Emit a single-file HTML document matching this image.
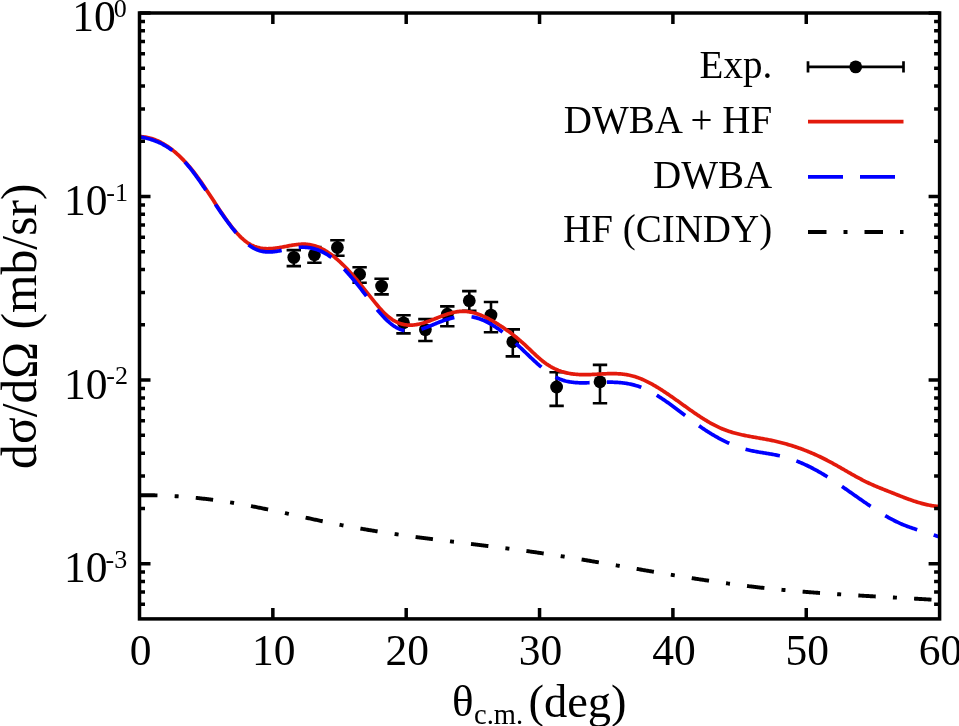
<!DOCTYPE html><html><head><meta charset="utf-8"><style>html,body{margin:0;padding:0;background:#fff;width:959px;height:726px;overflow:hidden}</style></head><body><svg width="959" height="726" viewBox="0 0 959 726" style="position:absolute;left:0;top:0;will-change:transform">
<rect width="959" height="726" fill="#fff"/>
<path d="M293.80,250.10V266.10M286.60,250.10H301.00M286.60,266.10H301.00" stroke="#000" stroke-width="2.6" fill="none"/><circle cx="293.80" cy="257.40" r="6.4" fill="#000"/>
<path d="M314.40,247.00V262.80M307.20,247.00H321.60M307.20,262.80H321.60" stroke="#000" stroke-width="2.6" fill="none"/><circle cx="314.40" cy="254.70" r="6.4" fill="#000"/>
<path d="M337.40,240.30V255.80M330.20,240.30H344.60M330.20,255.80H344.60" stroke="#000" stroke-width="2.6" fill="none"/><circle cx="337.40" cy="247.50" r="6.4" fill="#000"/>
<path d="M359.60,267.20V282.70M352.40,267.20H366.80M352.40,282.70H366.80" stroke="#000" stroke-width="2.6" fill="none"/><circle cx="359.60" cy="274.20" r="6.4" fill="#000"/>
<path d="M381.60,278.70V294.40M374.40,278.70H388.80M374.40,294.40H388.80" stroke="#000" stroke-width="2.6" fill="none"/><circle cx="381.60" cy="286.10" r="6.4" fill="#000"/>
<path d="M403.50,315.20V333.40M396.30,315.20H410.70M396.30,333.40H410.70" stroke="#000" stroke-width="2.6" fill="none"/><circle cx="403.50" cy="322.80" r="6.4" fill="#000"/>
<path d="M425.40,319.10V341.00M418.20,319.10H432.60M418.20,341.00H432.60" stroke="#000" stroke-width="2.6" fill="none"/><circle cx="425.40" cy="329.60" r="6.4" fill="#000"/>
<path d="M447.30,306.40V326.20M440.10,306.40H454.50M440.10,326.20H454.50" stroke="#000" stroke-width="2.6" fill="none"/><circle cx="447.30" cy="314.20" r="6.4" fill="#000"/>
<path d="M469.30,291.10V310.80M462.10,291.10H476.50M462.10,310.80H476.50" stroke="#000" stroke-width="2.6" fill="none"/><circle cx="469.30" cy="300.70" r="6.4" fill="#000"/>
<path d="M491.00,302.00V332.30M483.80,302.00H498.20M483.80,332.30H498.20" stroke="#000" stroke-width="2.6" fill="none"/><circle cx="491.00" cy="315.10" r="6.4" fill="#000"/>
<path d="M512.80,329.40V356.40M505.60,329.40H520.00M505.60,356.40H520.00" stroke="#000" stroke-width="2.6" fill="none"/><circle cx="512.80" cy="341.80" r="6.4" fill="#000"/>
<path d="M556.60,372.20V405.90M549.40,372.20H563.80M549.40,405.90H563.80" stroke="#000" stroke-width="2.6" fill="none"/><circle cx="556.60" cy="387.00" r="6.4" fill="#000"/>
<path d="M600.00,364.90V403.30M592.80,364.90H607.20M592.80,403.30H607.20" stroke="#000" stroke-width="2.6" fill="none"/><circle cx="600.00" cy="381.80" r="6.4" fill="#000"/>
<path d="M139.50,136.58 L140.50,136.62 L141.50,136.68 L142.50,136.77 L143.50,136.87 L144.50,137.00 L145.50,137.16 L146.50,137.33 L147.50,137.53 L148.50,137.75 L149.50,138.00 L150.50,138.27 L151.50,138.56 L152.50,138.88 L153.50,139.22 L154.50,139.58 L155.50,139.96 L156.50,140.37 L157.50,140.80 L158.50,141.25 L159.50,141.73 L160.50,142.23 L161.50,142.76 L162.50,143.30 L163.50,143.87 L164.50,144.47 L165.50,145.08 L166.50,145.72 L167.50,146.38 L168.50,147.07 L169.50,147.78 L170.50,148.51 L171.50,149.26 L172.50,150.04 L173.50,150.84 L174.50,151.67 L175.50,152.51 L176.50,153.38 L177.50,154.28 L178.50,155.19 L179.50,156.13 L180.50,157.10 L181.50,158.08 L182.50,159.09 L183.50,160.12 L184.50,161.18 L185.50,162.25 L186.50,163.36 L187.50,164.48 L188.50,165.63 L189.50,166.80 L190.50,167.99 L191.50,169.21 L192.50,170.45 L193.50,171.71 L194.50,172.99 L195.50,174.30 L196.50,175.63 L197.50,176.99 L198.50,178.36 L199.50,179.76 L200.50,181.17 L201.50,182.60 L202.50,184.05 L203.50,185.51 L204.50,186.99 L205.50,188.47 L206.50,189.97 L207.50,191.47 L208.50,192.98 L209.50,194.50 L210.50,196.02 L211.50,197.55 L212.50,199.08 L213.50,200.60 L214.50,202.13 L215.50,203.65 L216.50,205.17 L217.50,206.69 L218.50,208.20 L219.50,209.70 L220.50,211.19 L221.50,212.67 L222.50,214.13 L223.50,215.59 L224.50,217.02 L225.50,218.45 L226.50,219.85 L227.50,221.23 L228.50,222.60 L229.50,223.94 L230.50,225.26 L231.50,226.55 L232.50,227.82 L233.50,229.06 L234.50,230.27 L235.50,231.44 L236.50,232.59 L237.50,233.71 L238.50,234.78 L239.50,235.83 L240.50,236.83 L241.50,237.80 L242.50,238.72 L243.50,239.61 L244.50,240.45 L245.50,241.25 L246.50,242.00 L247.50,242.70 L248.50,243.36 L249.50,243.97 L250.50,244.54 L251.50,245.07 L252.50,245.55 L253.50,246.00 L254.50,246.41 L255.50,246.77 L256.50,247.11 L257.50,247.41 L258.50,247.67 L259.50,247.90 L260.50,248.10 L261.50,248.27 L262.50,248.42 L263.50,248.53 L264.50,248.62 L265.50,248.68 L266.50,248.72 L267.50,248.73 L268.50,248.72 L269.50,248.70 L270.50,248.65 L271.50,248.58 L272.50,248.50 L273.50,248.40 L274.50,248.29 L275.50,248.17 L276.50,248.03 L277.50,247.88 L278.50,247.72 L279.50,247.55 L280.50,247.38 L281.50,247.20 L282.50,247.02 L283.50,246.83 L284.50,246.64 L285.50,246.44 L286.50,246.25 L287.50,246.06 L288.50,245.87 L289.50,245.69 L290.50,245.51 L291.50,245.34 L292.50,245.17 L293.50,245.01 L294.50,244.86 L295.50,244.73 L296.50,244.60 L297.50,244.49 L298.50,244.39 L299.50,244.31 L300.50,244.25 L301.50,244.20 L302.50,244.17 L303.50,244.17 L304.50,244.18 L305.50,244.22 L306.50,244.28 L307.50,244.37 L308.50,244.49 L309.50,244.63 L310.50,244.80 L311.50,245.00 L312.50,245.23 L313.50,245.49 L314.50,245.78 L315.50,246.10 L316.50,246.45 L317.50,246.83 L318.50,247.23 L319.50,247.66 L320.50,248.12 L321.50,248.60 L322.50,249.11 L323.50,249.65 L324.50,250.21 L325.50,250.80 L326.50,251.41 L327.50,252.05 L328.50,252.71 L329.50,253.40 L330.50,254.10 L331.50,254.83 L332.50,255.59 L333.50,256.37 L334.50,257.16 L335.50,257.98 L336.50,258.82 L337.50,259.69 L338.50,260.57 L339.50,261.47 L340.50,262.40 L341.50,263.34 L342.50,264.30 L343.50,265.28 L344.50,266.28 L345.50,267.29 L346.50,268.33 L347.50,269.38 L348.50,270.45 L349.50,271.53 L350.50,272.64 L351.50,273.75 L352.50,274.89 L353.50,276.03 L354.50,277.20 L355.50,278.37 L356.50,279.56 L357.50,280.76 L358.50,281.97 L359.50,283.19 L360.50,284.42 L361.50,285.66 L362.50,286.90 L363.50,288.14 L364.50,289.39 L365.50,290.65 L366.50,291.90 L367.50,293.16 L368.50,294.41 L369.50,295.66 L370.50,296.92 L371.50,298.16 L372.50,299.40 L373.50,300.64 L374.50,301.87 L375.50,303.09 L376.50,304.30 L377.50,305.50 L378.50,306.68 L379.50,307.84 L380.50,308.97 L381.50,310.08 L382.50,311.16 L383.50,312.20 L384.50,313.20 L385.50,314.17 L386.50,315.09 L387.50,315.97 L388.50,316.80 L389.50,317.59 L390.50,318.34 L391.50,319.04 L392.50,319.71 L393.50,320.33 L394.50,320.91 L395.50,321.46 L396.50,321.96 L397.50,322.42 L398.50,322.85 L399.50,323.24 L400.50,323.59 L401.50,323.90 L402.50,324.18 L403.50,324.42 L404.50,324.62 L405.50,324.79 L406.50,324.93 L407.50,325.03 L408.50,325.10 L409.50,325.13 L410.50,325.14 L411.50,325.11 L412.50,325.06 L413.50,324.98 L414.50,324.87 L415.50,324.74 L416.50,324.58 L417.50,324.40 L418.50,324.20 L419.50,323.98 L420.50,323.74 L421.50,323.48 L422.50,323.20 L423.50,322.91 L424.50,322.61 L425.50,322.28 L426.50,321.95 L427.50,321.61 L428.50,321.25 L429.50,320.89 L430.50,320.52 L431.50,320.14 L432.50,319.75 L433.50,319.36 L434.50,318.97 L435.50,318.58 L436.50,318.18 L437.50,317.79 L438.50,317.39 L439.50,317.00 L440.50,316.61 L441.50,316.23 L442.50,315.85 L443.50,315.48 L444.50,315.12 L445.50,314.77 L446.50,314.43 L447.50,314.10 L448.50,313.78 L449.50,313.48 L450.50,313.19 L451.50,312.91 L452.50,312.66 L453.50,312.42 L454.50,312.21 L455.50,312.01 L456.50,311.84 L457.50,311.69 L458.50,311.56 L459.50,311.46 L460.50,311.39 L461.50,311.34 L462.50,311.32 L463.50,311.33 L464.50,311.36 L465.50,311.42 L466.50,311.51 L467.50,311.62 L468.50,311.75 L469.50,311.91 L470.50,312.09 L471.50,312.29 L472.50,312.52 L473.50,312.77 L474.50,313.04 L475.50,313.33 L476.50,313.64 L477.50,313.97 L478.50,314.32 L479.50,314.68 L480.50,315.07 L481.50,315.47 L482.50,315.89 L483.50,316.33 L484.50,316.79 L485.50,317.26 L486.50,317.74 L487.50,318.24 L488.50,318.75 L489.50,319.28 L490.50,319.82 L491.50,320.38 L492.50,320.94 L493.50,321.52 L494.50,322.11 L495.50,322.71 L496.50,323.31 L497.50,323.93 L498.50,324.56 L499.50,325.20 L500.50,325.84 L501.50,326.50 L502.50,327.16 L503.50,327.84 L504.50,328.52 L505.50,329.22 L506.50,329.92 L507.50,330.63 L508.50,331.36 L509.50,332.09 L510.50,332.84 L511.50,333.59 L512.50,334.36 L513.50,335.14 L514.50,335.93 L515.50,336.73 L516.50,337.54 L517.50,338.37 L518.50,339.21 L519.50,340.06 L520.50,340.92 L521.50,341.79 L522.50,342.68 L523.50,343.58 L524.50,344.49 L525.50,345.41 L526.50,346.35 L527.50,347.29 L528.50,348.24 L529.50,349.19 L530.50,350.14 L531.50,351.09 L532.50,352.04 L533.50,352.99 L534.50,353.92 L535.50,354.85 L536.50,355.77 L537.50,356.68 L538.50,357.57 L539.50,358.45 L540.50,359.30 L541.50,360.14 L542.50,360.95 L543.50,361.74 L544.50,362.51 L545.50,363.24 L546.50,363.95 L547.50,364.62 L548.50,365.27 L549.50,365.90 L550.50,366.50 L551.50,367.07 L552.50,367.62 L553.50,368.14 L554.50,368.64 L555.50,369.11 L556.50,369.56 L557.50,369.98 L558.50,370.39 L559.50,370.77 L560.50,371.13 L561.50,371.47 L562.50,371.78 L563.50,372.08 L564.50,372.36 L565.50,372.62 L566.50,372.86 L567.50,373.08 L568.50,373.28 L569.50,373.47 L570.50,373.64 L571.50,373.80 L572.50,373.94 L573.50,374.07 L574.50,374.18 L575.50,374.28 L576.50,374.37 L577.50,374.44 L578.50,374.50 L579.50,374.56 L580.50,374.60 L581.50,374.63 L582.50,374.65 L583.50,374.66 L584.50,374.66 L585.50,374.66 L586.50,374.65 L587.50,374.63 L588.50,374.61 L589.50,374.58 L590.50,374.54 L591.50,374.50 L592.50,374.46 L593.50,374.41 L594.50,374.36 L595.50,374.31 L596.50,374.26 L597.50,374.20 L598.50,374.15 L599.50,374.09 L600.50,374.04 L601.50,373.99 L602.50,373.94 L603.50,373.89 L604.50,373.84 L605.50,373.80 L606.50,373.76 L607.50,373.72 L608.50,373.69 L609.50,373.67 L610.50,373.65 L611.50,373.64 L612.50,373.64 L613.50,373.64 L614.50,373.65 L615.50,373.67 L616.50,373.70 L617.50,373.75 L618.50,373.80 L619.50,373.86 L620.50,373.93 L621.50,374.02 L622.50,374.12 L623.50,374.23 L624.50,374.36 L625.50,374.50 L626.50,374.66 L627.50,374.83 L628.50,375.02 L629.50,375.22 L630.50,375.45 L631.50,375.69 L632.50,375.95 L633.50,376.22 L634.50,376.52 L635.50,376.83 L636.50,377.16 L637.50,377.51 L638.50,377.87 L639.50,378.25 L640.50,378.64 L641.50,379.05 L642.50,379.48 L643.50,379.92 L644.50,380.37 L645.50,380.84 L646.50,381.32 L647.50,381.82 L648.50,382.32 L649.50,382.84 L650.50,383.37 L651.50,383.91 L652.50,384.47 L653.50,385.03 L654.50,385.61 L655.50,386.19 L656.50,386.79 L657.50,387.39 L658.50,388.01 L659.50,388.63 L660.50,389.26 L661.50,389.90 L662.50,390.54 L663.50,391.19 L664.50,391.85 L665.50,392.52 L666.50,393.19 L667.50,393.87 L668.50,394.55 L669.50,395.24 L670.50,395.93 L671.50,396.62 L672.50,397.32 L673.50,398.03 L674.50,398.73 L675.50,399.44 L676.50,400.15 L677.50,400.87 L678.50,401.58 L679.50,402.30 L680.50,403.02 L681.50,403.73 L682.50,404.45 L683.50,405.17 L684.50,405.88 L685.50,406.60 L686.50,407.31 L687.50,408.02 L688.50,408.73 L689.50,409.44 L690.50,410.15 L691.50,410.85 L692.50,411.54 L693.50,412.24 L694.50,412.93 L695.50,413.61 L696.50,414.29 L697.50,414.96 L698.50,415.63 L699.50,416.29 L700.50,416.95 L701.50,417.59 L702.50,418.23 L703.50,418.87 L704.50,419.49 L705.50,420.11 L706.50,420.71 L707.50,421.31 L708.50,421.90 L709.50,422.48 L710.50,423.05 L711.50,423.60 L712.50,424.15 L713.50,424.69 L714.50,425.21 L715.50,425.72 L716.50,426.22 L717.50,426.70 L718.50,427.17 L719.50,427.63 L720.50,428.08 L721.50,428.51 L722.50,428.92 L723.50,429.33 L724.50,429.72 L725.50,430.09 L726.50,430.46 L727.50,430.81 L728.50,431.16 L729.50,431.49 L730.50,431.81 L731.50,432.12 L732.50,432.42 L733.50,432.71 L734.50,432.99 L735.50,433.26 L736.50,433.53 L737.50,433.78 L738.50,434.03 L739.50,434.27 L740.50,434.51 L741.50,434.73 L742.50,434.96 L743.50,435.17 L744.50,435.38 L745.50,435.59 L746.50,435.79 L747.50,435.98 L748.50,436.18 L749.50,436.36 L750.50,436.55 L751.50,436.73 L752.50,436.91 L753.50,437.09 L754.50,437.27 L755.50,437.44 L756.50,437.62 L757.50,437.79 L758.50,437.97 L759.50,438.14 L760.50,438.32 L761.50,438.49 L762.50,438.67 L763.50,438.85 L764.50,439.03 L765.50,439.21 L766.50,439.40 L767.50,439.59 L768.50,439.78 L769.50,439.97 L770.50,440.18 L771.50,440.38 L772.50,440.59 L773.50,440.81 L774.50,441.03 L775.50,441.26 L776.50,441.49 L777.50,441.72 L778.50,441.96 L779.50,442.21 L780.50,442.46 L781.50,442.72 L782.50,442.98 L783.50,443.25 L784.50,443.52 L785.50,443.80 L786.50,444.08 L787.50,444.37 L788.50,444.66 L789.50,444.96 L790.50,445.27 L791.50,445.58 L792.50,445.89 L793.50,446.21 L794.50,446.54 L795.50,446.87 L796.50,447.21 L797.50,447.55 L798.50,447.90 L799.50,448.25 L800.50,448.61 L801.50,448.98 L802.50,449.35 L803.50,449.72 L804.50,450.11 L805.50,450.49 L806.50,450.89 L807.50,451.29 L808.50,451.69 L809.50,452.10 L810.50,452.52 L811.50,452.94 L812.50,453.37 L813.50,453.81 L814.50,454.25 L815.50,454.69 L816.50,455.15 L817.50,455.61 L818.50,456.07 L819.50,456.54 L820.50,457.02 L821.50,457.50 L822.50,457.99 L823.50,458.48 L824.50,458.99 L825.50,459.49 L826.50,460.01 L827.50,460.53 L828.50,461.05 L829.50,461.59 L830.50,462.12 L831.50,462.67 L832.50,463.21 L833.50,463.76 L834.50,464.32 L835.50,464.88 L836.50,465.44 L837.50,466.01 L838.50,466.58 L839.50,467.15 L840.50,467.72 L841.50,468.29 L842.50,468.87 L843.50,469.44 L844.50,470.02 L845.50,470.60 L846.50,471.17 L847.50,471.75 L848.50,472.32 L849.50,472.89 L850.50,473.46 L851.50,474.03 L852.50,474.60 L853.50,475.16 L854.50,475.72 L855.50,476.28 L856.50,476.83 L857.50,477.37 L858.50,477.92 L859.50,478.45 L860.50,478.99 L861.50,479.51 L862.50,480.03 L863.50,480.54 L864.50,481.05 L865.50,481.55 L866.50,482.04 L867.50,482.52 L868.50,483.00 L869.50,483.46 L870.50,483.92 L871.50,484.37 L872.50,484.81 L873.50,485.25 L874.50,485.68 L875.50,486.11 L876.50,486.53 L877.50,486.94 L878.50,487.36 L879.50,487.76 L880.50,488.17 L881.50,488.57 L882.50,488.97 L883.50,489.37 L884.50,489.76 L885.50,490.16 L886.50,490.55 L887.50,490.95 L888.50,491.35 L889.50,491.74 L890.50,492.14 L891.50,492.54 L892.50,492.94 L893.50,493.34 L894.50,493.74 L895.50,494.14 L896.50,494.54 L897.50,494.93 L898.50,495.33 L899.50,495.73 L900.50,496.12 L901.50,496.51 L902.50,496.90 L903.50,497.28 L904.50,497.67 L905.50,498.04 L906.50,498.42 L907.50,498.79 L908.50,499.16 L909.50,499.52 L910.50,499.87 L911.50,500.22 L912.50,500.57 L913.50,500.91 L914.50,501.24 L915.50,501.57 L916.50,501.88 L917.50,502.20 L918.50,502.50 L919.50,502.79 L920.50,503.08 L921.50,503.36 L922.50,503.63 L923.50,503.89 L924.50,504.14 L925.50,504.38 L926.50,504.61 L927.50,504.83 L928.50,505.04 L929.50,505.24 L930.50,505.42 L931.50,505.60 L932.50,505.76 L933.50,505.91 L934.50,506.04 L935.50,506.17 L936.50,506.28 L937.50,506.37 L938.50,506.45 L939.50,506.52 L939.60,506.53" stroke="#e31a0c" stroke-width="3.7" fill="none" stroke-linejoin="round"/>
<path d="M139.50,136.92 L140.50,137.07 L141.50,137.23 L142.50,137.40 L143.50,137.59 L144.50,137.79 L145.50,138.01 L146.50,138.24 L147.50,138.48 L148.50,138.74 L149.50,139.02 L150.50,139.31 L151.50,139.62 L152.50,139.94 L153.50,140.29 L154.50,140.65 L155.50,141.03 L156.50,141.42 L157.50,141.84 L158.50,142.27 L159.50,142.73 L160.50,143.20 L161.50,143.69 L162.50,144.21 L163.50,144.75 L164.50,145.30 L165.50,145.88 L166.50,146.49 L167.50,147.11 L168.50,147.76 L169.50,148.43 L170.50,149.13 L171.50,149.85 L172.50,150.59 L173.50,151.36 L174.50,152.16 L175.50,152.98 L176.50,153.83 L177.50,154.70 L178.50,155.61 L179.50,156.54 L180.50,157.49 L181.50,158.48 L182.50,159.49 L183.50,160.54 L184.50,161.61 L185.50,162.71 L186.50,163.85 L187.50,165.01 L188.50,166.20 L189.50,167.42 L190.50,168.66 L191.50,169.93 L192.50,171.22 L193.50,172.53 L194.50,173.86 L195.50,175.21 L196.50,176.59 L197.50,177.97 L198.50,179.38 L199.50,180.80 L200.50,182.23 L201.50,183.67 L202.50,185.13 L203.50,186.60 L204.50,188.07 L205.50,189.55 L206.50,191.04 L207.50,192.54 L208.50,194.03 L209.50,195.53 L210.50,197.04 L211.50,198.54 L212.50,200.04 L213.50,201.54 L214.50,203.04 L215.50,204.53 L216.50,206.02 L217.50,207.50 L218.50,208.98 L219.50,210.44 L220.50,211.90 L221.50,213.35 L222.50,214.78 L223.50,216.20 L224.50,217.61 L225.50,219.01 L226.50,220.39 L227.50,221.75 L228.50,223.10 L229.50,224.42 L230.50,225.73 L231.50,227.02 L232.50,228.29 L233.50,229.53 L234.50,230.75 L235.50,231.94 L236.50,233.11 L237.50,234.26 L238.50,235.37 L239.50,236.46 L240.50,237.52 L241.50,238.54 L242.50,239.54 L243.50,240.50 L244.50,241.43 L245.50,242.32 L246.50,243.18 L247.50,244.00 L248.50,244.79 L249.50,245.53 L250.50,246.24 L251.50,246.90 L252.50,247.53 L253.50,248.11 L254.50,248.64 L255.50,249.14 L256.50,249.58 L257.50,249.98 L258.50,250.35 L259.50,250.67 L260.50,250.95 L261.50,251.19 L262.50,251.39 L263.50,251.57 L264.50,251.70 L265.50,251.81 L266.50,251.89 L267.50,251.94 L268.50,251.96 L269.50,251.95 L270.50,251.92 L271.50,251.87 L272.50,251.80 L273.50,251.70 L274.50,251.59 L275.50,251.46 L276.50,251.32 L277.50,251.16 L278.50,251.00 L279.50,250.82 L280.50,250.63 L281.50,250.43 L282.50,250.23 L283.50,250.02 L284.50,249.81 L285.50,249.60 L286.50,249.39 L287.50,249.18 L288.50,248.97 L289.50,248.77 L290.50,248.57 L291.50,248.38 L292.50,248.20 L293.50,248.03 L294.50,247.87 L295.50,247.73 L296.50,247.60 L297.50,247.49 L298.50,247.39 L299.50,247.32 L300.50,247.26 L301.50,247.23 L302.50,247.22 L303.50,247.23 L304.50,247.26 L305.50,247.32 L306.50,247.39 L307.50,247.50 L308.50,247.62 L309.50,247.77 L310.50,247.94 L311.50,248.14 L312.50,248.36 L313.50,248.61 L314.50,248.88 L315.50,249.17 L316.50,249.50 L317.50,249.84 L318.50,250.22 L319.50,250.62 L320.50,251.04 L321.50,251.50 L322.50,251.98 L323.50,252.48 L324.50,253.02 L325.50,253.58 L326.50,254.17 L327.50,254.79 L328.50,255.44 L329.50,256.12 L330.50,256.83 L331.50,257.56 L332.50,258.33 L333.50,259.12 L334.50,259.95 L335.50,260.79 L336.50,261.67 L337.50,262.57 L338.50,263.49 L339.50,264.44 L340.50,265.41 L341.50,266.41 L342.50,267.42 L343.50,268.46 L344.50,269.52 L345.50,270.59 L346.50,271.68 L347.50,272.79 L348.50,273.92 L349.50,275.06 L350.50,276.22 L351.50,277.39 L352.50,278.58 L353.50,279.77 L354.50,280.98 L355.50,282.20 L356.50,283.43 L357.50,284.68 L358.50,285.92 L359.50,287.18 L360.50,288.44 L361.50,289.71 L362.50,290.99 L363.50,292.27 L364.50,293.55 L365.50,294.84 L366.50,296.13 L367.50,297.42 L368.50,298.71 L369.50,300.00 L370.50,301.28 L371.50,302.56 L372.50,303.83 L373.50,305.09 L374.50,306.34 L375.50,307.57 L376.50,308.80 L377.50,310.00 L378.50,311.19 L379.50,312.36 L380.50,313.51 L381.50,314.63 L382.50,315.73 L383.50,316.80 L384.50,317.85 L385.50,318.86 L386.50,319.85 L387.50,320.80 L388.50,321.71 L389.50,322.59 L390.50,323.43 L391.50,324.23 L392.50,324.99 L393.50,325.70 L394.50,326.37 L395.50,327.00 L396.50,327.58 L397.50,328.12 L398.50,328.61 L399.50,329.06 L400.50,329.47 L401.50,329.83 L402.50,330.14 L403.50,330.41 L404.50,330.64 L405.50,330.82 L406.50,330.97 L407.50,331.07 L408.50,331.13 L409.50,331.16 L410.50,331.15 L411.50,331.11 L412.50,331.03 L413.50,330.92 L414.50,330.78 L415.50,330.62 L416.50,330.43 L417.50,330.21 L418.50,329.97 L419.50,329.70 L420.50,329.42 L421.50,329.12 L422.50,328.80 L423.50,328.46 L424.50,328.11 L425.50,327.74 L426.50,327.36 L427.50,326.98 L428.50,326.58 L429.50,326.18 L430.50,325.77 L431.50,325.35 L432.50,324.94 L433.50,324.52 L434.50,324.10 L435.50,323.68 L436.50,323.27 L437.50,322.86 L438.50,322.46 L439.50,322.06 L440.50,321.68 L441.50,321.30 L442.50,320.93 L443.50,320.58 L444.50,320.23 L445.50,319.89 L446.50,319.57 L447.50,319.26 L448.50,318.96 L449.50,318.67 L450.50,318.40 L451.50,318.14 L452.50,317.90 L453.50,317.67 L454.50,317.46 L455.50,317.27 L456.50,317.09 L457.50,316.93 L458.50,316.78 L459.50,316.66 L460.50,316.55 L461.50,316.47 L462.50,316.40 L463.50,316.35 L464.50,316.33 L465.50,316.32 L466.50,316.34 L467.50,316.38 L468.50,316.45 L469.50,316.54 L470.50,316.65 L471.50,316.78 L472.50,316.95 L473.50,317.13 L474.50,317.35 L475.50,317.58 L476.50,317.85 L477.50,318.13 L478.50,318.45 L479.50,318.78 L480.50,319.14 L481.50,319.52 L482.50,319.93 L483.50,320.35 L484.50,320.80 L485.50,321.27 L486.50,321.76 L487.50,322.27 L488.50,322.79 L489.50,323.34 L490.50,323.91 L491.50,324.50 L492.50,325.10 L493.50,325.73 L494.50,326.37 L495.50,327.02 L496.50,327.70 L497.50,328.39 L498.50,329.09 L499.50,329.81 L500.50,330.55 L501.50,331.30 L502.50,332.06 L503.50,332.84 L504.50,333.63 L505.50,334.44 L506.50,335.25 L507.50,336.08 L508.50,336.92 L509.50,337.77 L510.50,338.63 L511.50,339.51 L512.50,340.39 L513.50,341.28 L514.50,342.18 L515.50,343.09 L516.50,344.01 L517.50,344.94 L518.50,345.87 L519.50,346.81 L520.50,347.75 L521.50,348.70 L522.50,349.66 L523.50,350.62 L524.50,351.57 L525.50,352.53 L526.50,353.49 L527.50,354.45 L528.50,355.41 L529.50,356.36 L530.50,357.31 L531.50,358.26 L532.50,359.20 L533.50,360.13 L534.50,361.05 L535.50,361.97 L536.50,362.88 L537.50,363.77 L538.50,364.66 L539.50,365.53 L540.50,366.39 L541.50,367.24 L542.50,368.07 L543.50,368.88 L544.50,369.68 L545.50,370.45 L546.50,371.21 L547.50,371.95 L548.50,372.67 L549.50,373.37 L550.50,374.04 L551.50,374.69 L552.50,375.32 L553.50,375.92 L554.50,376.49 L555.50,377.04 L556.50,377.55 L557.50,378.04 L558.50,378.50 L559.50,378.93 L560.50,379.33 L561.50,379.70 L562.50,380.05 L563.50,380.37 L564.50,380.67 L565.50,380.95 L566.50,381.20 L567.50,381.43 L568.50,381.64 L569.50,381.83 L570.50,382.00 L571.50,382.15 L572.50,382.28 L573.50,382.40 L574.50,382.50 L575.50,382.59 L576.50,382.66 L577.50,382.72 L578.50,382.76 L579.50,382.80 L580.50,382.82 L581.50,382.84 L582.50,382.84 L583.50,382.84 L584.50,382.83 L585.50,382.82 L586.50,382.80 L587.50,382.77 L588.50,382.74 L589.50,382.71 L590.50,382.68 L591.50,382.64 L592.50,382.60 L593.50,382.57 L594.50,382.53 L595.50,382.49 L596.50,382.45 L597.50,382.42 L598.50,382.38 L599.50,382.35 L600.50,382.31 L601.50,382.28 L602.50,382.26 L603.50,382.23 L604.50,382.21 L605.50,382.20 L606.50,382.18 L607.50,382.17 L608.50,382.17 L609.50,382.17 L610.50,382.18 L611.50,382.20 L612.50,382.22 L613.50,382.25 L614.50,382.28 L615.50,382.32 L616.50,382.37 L617.50,382.43 L618.50,382.50 L619.50,382.58 L620.50,382.67 L621.50,382.77 L622.50,382.88 L623.50,382.99 L624.50,383.13 L625.50,383.27 L626.50,383.42 L627.50,383.59 L628.50,383.77 L629.50,383.96 L630.50,384.17 L631.50,384.39 L632.50,384.62 L633.50,384.87 L634.50,385.14 L635.50,385.42 L636.50,385.72 L637.50,386.03 L638.50,386.36 L639.50,386.71 L640.50,387.07 L641.50,387.45 L642.50,387.85 L643.50,388.27 L644.50,388.70 L645.50,389.16 L646.50,389.62 L647.50,390.11 L648.50,390.60 L649.50,391.12 L650.50,391.64 L651.50,392.18 L652.50,392.74 L653.50,393.31 L654.50,393.89 L655.50,394.48 L656.50,395.09 L657.50,395.70 L658.50,396.33 L659.50,396.97 L660.50,397.61 L661.50,398.27 L662.50,398.94 L663.50,399.61 L664.50,400.30 L665.50,400.99 L666.50,401.69 L667.50,402.39 L668.50,403.10 L669.50,403.82 L670.50,404.55 L671.50,405.28 L672.50,406.01 L673.50,406.75 L674.50,407.50 L675.50,408.24 L676.50,408.99 L677.50,409.74 L678.50,410.50 L679.50,411.26 L680.50,412.02 L681.50,412.78 L682.50,413.54 L683.50,414.30 L684.50,415.06 L685.50,415.82 L686.50,416.57 L687.50,417.33 L688.50,418.09 L689.50,418.84 L690.50,419.59 L691.50,420.33 L692.50,421.08 L693.50,421.81 L694.50,422.55 L695.50,423.28 L696.50,424.00 L697.50,424.72 L698.50,425.43 L699.50,426.13 L700.50,426.83 L701.50,427.52 L702.50,428.20 L703.50,428.88 L704.50,429.54 L705.50,430.20 L706.50,430.85 L707.50,431.50 L708.50,432.13 L709.50,432.76 L710.50,433.38 L711.50,433.99 L712.50,434.59 L713.50,435.19 L714.50,435.77 L715.50,436.35 L716.50,436.92 L717.50,437.48 L718.50,438.03 L719.50,438.57 L720.50,439.10 L721.50,439.63 L722.50,440.14 L723.50,440.65 L724.50,441.14 L725.50,441.63 L726.50,442.11 L727.50,442.57 L728.50,443.03 L729.50,443.48 L730.50,443.92 L731.50,444.34 L732.50,444.76 L733.50,445.17 L734.50,445.57 L735.50,445.95 L736.50,446.33 L737.50,446.69 L738.50,447.05 L739.50,447.39 L740.50,447.73 L741.50,448.05 L742.50,448.36 L743.50,448.67 L744.50,448.96 L745.50,449.24 L746.50,449.50 L747.50,449.76 L748.50,450.01 L749.50,450.24 L750.50,450.47 L751.50,450.69 L752.50,450.90 L753.50,451.10 L754.50,451.30 L755.50,451.49 L756.50,451.67 L757.50,451.85 L758.50,452.03 L759.50,452.20 L760.50,452.36 L761.50,452.53 L762.50,452.69 L763.50,452.86 L764.50,453.02 L765.50,453.18 L766.50,453.34 L767.50,453.51 L768.50,453.67 L769.50,453.84 L770.50,454.01 L771.50,454.19 L772.50,454.36 L773.50,454.55 L774.50,454.74 L775.50,454.93 L776.50,455.14 L777.50,455.34 L778.50,455.56 L779.50,455.79 L780.50,456.02 L781.50,456.27 L782.50,456.52 L783.50,456.78 L784.50,457.06 L785.50,457.34 L786.50,457.63 L787.50,457.92 L788.50,458.23 L789.50,458.55 L790.50,458.87 L791.50,459.21 L792.50,459.55 L793.50,459.90 L794.50,460.26 L795.50,460.63 L796.50,461.01 L797.50,461.40 L798.50,461.80 L799.50,462.20 L800.50,462.61 L801.50,463.04 L802.50,463.47 L803.50,463.91 L804.50,464.35 L805.50,464.81 L806.50,465.28 L807.50,465.75 L808.50,466.23 L809.50,466.72 L810.50,467.22 L811.50,467.73 L812.50,468.25 L813.50,468.77 L814.50,469.31 L815.50,469.85 L816.50,470.40 L817.50,470.96 L818.50,471.52 L819.50,472.09 L820.50,472.67 L821.50,473.26 L822.50,473.85 L823.50,474.45 L824.50,475.05 L825.50,475.67 L826.50,476.28 L827.50,476.91 L828.50,477.53 L829.50,478.17 L830.50,478.81 L831.50,479.45 L832.50,480.10 L833.50,480.75 L834.50,481.41 L835.50,482.07 L836.50,482.74 L837.50,483.41 L838.50,484.08 L839.50,484.76 L840.50,485.43 L841.50,486.12 L842.50,486.80 L843.50,487.49 L844.50,488.18 L845.50,488.87 L846.50,489.56 L847.50,490.26 L848.50,490.96 L849.50,491.66 L850.50,492.36 L851.50,493.06 L852.50,493.76 L853.50,494.46 L854.50,495.16 L855.50,495.86 L856.50,496.57 L857.50,497.27 L858.50,497.97 L859.50,498.67 L860.50,499.37 L861.50,500.07 L862.50,500.77 L863.50,501.46 L864.50,502.16 L865.50,502.85 L866.50,503.54 L867.50,504.22 L868.50,504.90 L869.50,505.58 L870.50,506.26 L871.50,506.93 L872.50,507.60 L873.50,508.26 L874.50,508.92 L875.50,509.58 L876.50,510.23 L877.50,510.87 L878.50,511.51 L879.50,512.14 L880.50,512.76 L881.50,513.38 L882.50,514.00 L883.50,514.60 L884.50,515.20 L885.50,515.79 L886.50,516.37 L887.50,516.95 L888.50,517.52 L889.50,518.08 L890.50,518.62 L891.50,519.17 L892.50,519.70 L893.50,520.22 L894.50,520.73 L895.50,521.23 L896.50,521.72 L897.50,522.20 L898.50,522.67 L899.50,523.13 L900.50,523.58 L901.50,524.01 L902.50,524.44 L903.50,524.85 L904.50,525.25 L905.50,525.65 L906.50,526.03 L907.50,526.40 L908.50,526.77 L909.50,527.13 L910.50,527.48 L911.50,527.82 L912.50,528.16 L913.50,528.49 L914.50,528.82 L915.50,529.15 L916.50,529.47 L917.50,529.78 L918.50,530.10 L919.50,530.41 L920.50,530.72 L921.50,531.02 L922.50,531.33 L923.50,531.64 L924.50,531.95 L925.50,532.26 L926.50,532.57 L927.50,532.88 L928.50,533.20 L929.50,533.52 L930.50,533.84 L931.50,534.17 L932.50,534.50 L933.50,534.84 L934.50,535.19 L935.50,535.54 L936.50,535.90 L937.50,536.26 L938.50,536.64 L939.50,537.02 L939.60,537.06" stroke="#0000ff" stroke-width="3.7" fill="none" stroke-dasharray="35 17.29" stroke-dashoffset="-0.8" stroke-linejoin="round"/>
<path d="M139.50,495.25 L140.50,495.24 L141.50,495.23 L142.50,495.23 L143.50,495.22 L144.50,495.22 L145.50,495.22 L146.50,495.23 L147.50,495.23 L148.50,495.24 L149.50,495.25 L150.50,495.26 L151.50,495.27 L152.50,495.28 L153.50,495.30 L154.50,495.32 L155.50,495.34 L156.50,495.37 L157.50,495.39 L158.50,495.42 L159.50,495.45 L160.50,495.48 L161.50,495.51 L162.50,495.55 L163.50,495.59 L164.50,495.63 L165.50,495.67 L166.50,495.71 L167.50,495.76 L168.50,495.80 L169.50,495.85 L170.50,495.91 L171.50,495.96 L172.50,496.02 L173.50,496.07 L174.50,496.13 L175.50,496.19 L176.50,496.26 L177.50,496.32 L178.50,496.39 L179.50,496.46 L180.50,496.53 L181.50,496.61 L182.50,496.68 L183.50,496.76 L184.50,496.84 L185.50,496.92 L186.50,497.00 L187.50,497.09 L188.50,497.17 L189.50,497.26 L190.50,497.35 L191.50,497.44 L192.50,497.54 L193.50,497.63 L194.50,497.73 L195.50,497.83 L196.50,497.93 L197.50,498.04 L198.50,498.14 L199.50,498.25 L200.50,498.36 L201.50,498.47 L202.50,498.58 L203.50,498.69 L204.50,498.81 L205.50,498.93 L206.50,499.05 L207.50,499.17 L208.50,499.29 L209.50,499.42 L210.50,499.54 L211.50,499.67 L212.50,499.80 L213.50,499.94 L214.50,500.07 L215.50,500.21 L216.50,500.34 L217.50,500.48 L218.50,500.62 L219.50,500.77 L220.50,500.91 L221.50,501.06 L222.50,501.20 L223.50,501.35 L224.50,501.50 L225.50,501.66 L226.50,501.81 L227.50,501.97 L228.50,502.13 L229.50,502.28 L230.50,502.45 L231.50,502.61 L232.50,502.77 L233.50,502.94 L234.50,503.11 L235.50,503.28 L236.50,503.45 L237.50,503.62 L238.50,503.79 L239.50,503.97 L240.50,504.15 L241.50,504.32 L242.50,504.50 L243.50,504.69 L244.50,504.87 L245.50,505.05 L246.50,505.24 L247.50,505.42 L248.50,505.61 L249.50,505.80 L250.50,505.99 L251.50,506.18 L252.50,506.38 L253.50,506.57 L254.50,506.76 L255.50,506.96 L256.50,507.16 L257.50,507.35 L258.50,507.55 L259.50,507.75 L260.50,507.96 L261.50,508.16 L262.50,508.36 L263.50,508.56 L264.50,508.77 L265.50,508.97 L266.50,509.18 L267.50,509.39 L268.50,509.60 L269.50,509.80 L270.50,510.01 L271.50,510.22 L272.50,510.43 L273.50,510.65 L274.50,510.86 L275.50,511.07 L276.50,511.28 L277.50,511.50 L278.50,511.71 L279.50,511.93 L280.50,512.14 L281.50,512.36 L282.50,512.57 L283.50,512.79 L284.50,513.00 L285.50,513.22 L286.50,513.44 L287.50,513.66 L288.50,513.87 L289.50,514.09 L290.50,514.31 L291.50,514.53 L292.50,514.75 L293.50,514.97 L294.50,515.18 L295.50,515.40 L296.50,515.62 L297.50,515.84 L298.50,516.06 L299.50,516.28 L300.50,516.50 L301.50,516.72 L302.50,516.93 L303.50,517.15 L304.50,517.37 L305.50,517.59 L306.50,517.81 L307.50,518.02 L308.50,518.24 L309.50,518.46 L310.50,518.68 L311.50,518.89 L312.50,519.11 L313.50,519.32 L314.50,519.54 L315.50,519.75 L316.50,519.97 L317.50,520.18 L318.50,520.40 L319.50,520.61 L320.50,520.82 L321.50,521.03 L322.50,521.24 L323.50,521.45 L324.50,521.66 L325.50,521.87 L326.50,522.08 L327.50,522.29 L328.50,522.50 L329.50,522.70 L330.50,522.91 L331.50,523.11 L332.50,523.31 L333.50,523.52 L334.50,523.72 L335.50,523.92 L336.50,524.12 L337.50,524.32 L338.50,524.52 L339.50,524.71 L340.50,524.91 L341.50,525.10 L342.50,525.30 L343.50,525.49 L344.50,525.68 L345.50,525.87 L346.50,526.06 L347.50,526.25 L348.50,526.43 L349.50,526.62 L350.50,526.80 L351.50,526.99 L352.50,527.17 L353.50,527.35 L354.50,527.53 L355.50,527.71 L356.50,527.89 L357.50,528.07 L358.50,528.24 L359.50,528.42 L360.50,528.59 L361.50,528.77 L362.50,528.94 L363.50,529.11 L364.50,529.28 L365.50,529.45 L366.50,529.62 L367.50,529.79 L368.50,529.95 L369.50,530.12 L370.50,530.28 L371.50,530.45 L372.50,530.61 L373.50,530.77 L374.50,530.93 L375.50,531.09 L376.50,531.25 L377.50,531.41 L378.50,531.57 L379.50,531.73 L380.50,531.89 L381.50,532.04 L382.50,532.20 L383.50,532.35 L384.50,532.50 L385.50,532.66 L386.50,532.81 L387.50,532.96 L388.50,533.11 L389.50,533.26 L390.50,533.41 L391.50,533.56 L392.50,533.71 L393.50,533.85 L394.50,534.00 L395.50,534.15 L396.50,534.29 L397.50,534.43 L398.50,534.58 L399.50,534.72 L400.50,534.86 L401.50,535.01 L402.50,535.15 L403.50,535.29 L404.50,535.43 L405.50,535.57 L406.50,535.71 L407.50,535.85 L408.50,535.98 L409.50,536.12 L410.50,536.26 L411.50,536.39 L412.50,536.53 L413.50,536.67 L414.50,536.80 L415.50,536.93 L416.50,537.07 L417.50,537.20 L418.50,537.33 L419.50,537.47 L420.50,537.60 L421.50,537.73 L422.50,537.86 L423.50,537.99 L424.50,538.12 L425.50,538.25 L426.50,538.38 L427.50,538.51 L428.50,538.64 L429.50,538.77 L430.50,538.90 L431.50,539.03 L432.50,539.15 L433.50,539.28 L434.50,539.41 L435.50,539.54 L436.50,539.66 L437.50,539.79 L438.50,539.91 L439.50,540.04 L440.50,540.17 L441.50,540.29 L442.50,540.42 L443.50,540.54 L444.50,540.66 L445.50,540.79 L446.50,540.91 L447.50,541.04 L448.50,541.16 L449.50,541.28 L450.50,541.41 L451.50,541.53 L452.50,541.65 L453.50,541.78 L454.50,541.90 L455.50,542.02 L456.50,542.15 L457.50,542.27 L458.50,542.39 L459.50,542.51 L460.50,542.64 L461.50,542.76 L462.50,542.88 L463.50,543.00 L464.50,543.12 L465.50,543.25 L466.50,543.37 L467.50,543.49 L468.50,543.61 L469.50,543.73 L470.50,543.86 L471.50,543.98 L472.50,544.10 L473.50,544.22 L474.50,544.35 L475.50,544.47 L476.50,544.59 L477.50,544.71 L478.50,544.84 L479.50,544.96 L480.50,545.08 L481.50,545.20 L482.50,545.33 L483.50,545.45 L484.50,545.57 L485.50,545.70 L486.50,545.82 L487.50,545.95 L488.50,546.07 L489.50,546.19 L490.50,546.32 L491.50,546.44 L492.50,546.57 L493.50,546.69 L494.50,546.82 L495.50,546.95 L496.50,547.07 L497.50,547.20 L498.50,547.32 L499.50,547.45 L500.50,547.58 L501.50,547.71 L502.50,547.83 L503.50,547.96 L504.50,548.09 L505.50,548.22 L506.50,548.35 L507.50,548.48 L508.50,548.61 L509.50,548.74 L510.50,548.87 L511.50,549.00 L512.50,549.13 L513.50,549.26 L514.50,549.39 L515.50,549.53 L516.50,549.66 L517.50,549.79 L518.50,549.93 L519.50,550.06 L520.50,550.20 L521.50,550.33 L522.50,550.47 L523.50,550.61 L524.50,550.74 L525.50,550.88 L526.50,551.02 L527.50,551.16 L528.50,551.30 L529.50,551.44 L530.50,551.58 L531.50,551.72 L532.50,551.86 L533.50,552.00 L534.50,552.14 L535.50,552.29 L536.50,552.43 L537.50,552.58 L538.50,552.72 L539.50,552.87 L540.50,553.01 L541.50,553.16 L542.50,553.31 L543.50,553.46 L544.50,553.61 L545.50,553.76 L546.50,553.91 L547.50,554.06 L548.50,554.21 L549.50,554.36 L550.50,554.51 L551.50,554.66 L552.50,554.82 L553.50,554.97 L554.50,555.12 L555.50,555.28 L556.50,555.43 L557.50,555.59 L558.50,555.75 L559.50,555.90 L560.50,556.06 L561.50,556.22 L562.50,556.38 L563.50,556.53 L564.50,556.69 L565.50,556.85 L566.50,557.01 L567.50,557.17 L568.50,557.33 L569.50,557.49 L570.50,557.66 L571.50,557.82 L572.50,557.98 L573.50,558.14 L574.50,558.31 L575.50,558.47 L576.50,558.63 L577.50,558.80 L578.50,558.96 L579.50,559.13 L580.50,559.29 L581.50,559.46 L582.50,559.62 L583.50,559.79 L584.50,559.96 L585.50,560.12 L586.50,560.29 L587.50,560.46 L588.50,560.62 L589.50,560.79 L590.50,560.96 L591.50,561.13 L592.50,561.30 L593.50,561.47 L594.50,561.63 L595.50,561.80 L596.50,561.97 L597.50,562.14 L598.50,562.31 L599.50,562.48 L600.50,562.65 L601.50,562.82 L602.50,562.99 L603.50,563.16 L604.50,563.34 L605.50,563.51 L606.50,563.68 L607.50,563.85 L608.50,564.02 L609.50,564.19 L610.50,564.36 L611.50,564.54 L612.50,564.71 L613.50,564.88 L614.50,565.05 L615.50,565.23 L616.50,565.40 L617.50,565.57 L618.50,565.74 L619.50,565.92 L620.50,566.09 L621.50,566.26 L622.50,566.43 L623.50,566.61 L624.50,566.78 L625.50,566.95 L626.50,567.13 L627.50,567.30 L628.50,567.47 L629.50,567.64 L630.50,567.82 L631.50,567.99 L632.50,568.16 L633.50,568.34 L634.50,568.51 L635.50,568.68 L636.50,568.85 L637.50,569.03 L638.50,569.20 L639.50,569.37 L640.50,569.54 L641.50,569.72 L642.50,569.89 L643.50,570.06 L644.50,570.23 L645.50,570.40 L646.50,570.58 L647.50,570.75 L648.50,570.92 L649.50,571.09 L650.50,571.26 L651.50,571.43 L652.50,571.60 L653.50,571.77 L654.50,571.94 L655.50,572.11 L656.50,572.28 L657.50,572.45 L658.50,572.62 L659.50,572.79 L660.50,572.96 L661.50,573.13 L662.50,573.30 L663.50,573.47 L664.50,573.64 L665.50,573.81 L666.50,573.97 L667.50,574.14 L668.50,574.31 L669.50,574.48 L670.50,574.64 L671.50,574.81 L672.50,574.97 L673.50,575.14 L674.50,575.31 L675.50,575.47 L676.50,575.64 L677.50,575.80 L678.50,575.96 L679.50,576.13 L680.50,576.29 L681.50,576.45 L682.50,576.62 L683.50,576.78 L684.50,576.94 L685.50,577.10 L686.50,577.26 L687.50,577.43 L688.50,577.59 L689.50,577.75 L690.50,577.90 L691.50,578.06 L692.50,578.22 L693.50,578.38 L694.50,578.54 L695.50,578.70 L696.50,578.85 L697.50,579.01 L698.50,579.16 L699.50,579.32 L700.50,579.47 L701.50,579.63 L702.50,579.78 L703.50,579.94 L704.50,580.09 L705.50,580.24 L706.50,580.39 L707.50,580.54 L708.50,580.69 L709.50,580.84 L710.50,580.99 L711.50,581.14 L712.50,581.29 L713.50,581.44 L714.50,581.59 L715.50,581.73 L716.50,581.88 L717.50,582.02 L718.50,582.17 L719.50,582.31 L720.50,582.45 L721.50,582.60 L722.50,582.74 L723.50,582.88 L724.50,583.02 L725.50,583.16 L726.50,583.30 L727.50,583.44 L728.50,583.58 L729.50,583.72 L730.50,583.85 L731.50,583.99 L732.50,584.12 L733.50,584.26 L734.50,584.39 L735.50,584.53 L736.50,584.66 L737.50,584.79 L738.50,584.92 L739.50,585.05 L740.50,585.18 L741.50,585.31 L742.50,585.44 L743.50,585.56 L744.50,585.69 L745.50,585.81 L746.50,585.94 L747.50,586.06 L748.50,586.18 L749.50,586.31 L750.50,586.43 L751.50,586.55 L752.50,586.67 L753.50,586.79 L754.50,586.90 L755.50,587.02 L756.50,587.14 L757.50,587.25 L758.50,587.37 L759.50,587.48 L760.50,587.59 L761.50,587.70 L762.50,587.81 L763.50,587.92 L764.50,588.03 L765.50,588.14 L766.50,588.25 L767.50,588.36 L768.50,588.46 L769.50,588.57 L770.50,588.67 L771.50,588.77 L772.50,588.88 L773.50,588.98 L774.50,589.08 L775.50,589.18 L776.50,589.28 L777.50,589.38 L778.50,589.48 L779.50,589.57 L780.50,589.67 L781.50,589.77 L782.50,589.86 L783.50,589.96 L784.50,590.05 L785.50,590.14 L786.50,590.24 L787.50,590.33 L788.50,590.42 L789.50,590.51 L790.50,590.60 L791.50,590.69 L792.50,590.78 L793.50,590.86 L794.50,590.95 L795.50,591.04 L796.50,591.12 L797.50,591.21 L798.50,591.29 L799.50,591.38 L800.50,591.46 L801.50,591.54 L802.50,591.63 L803.50,591.71 L804.50,591.79 L805.50,591.87 L806.50,591.95 L807.50,592.03 L808.50,592.11 L809.50,592.18 L810.50,592.26 L811.50,592.34 L812.50,592.42 L813.50,592.49 L814.50,592.57 L815.50,592.64 L816.50,592.72 L817.50,592.79 L818.50,592.87 L819.50,592.94 L820.50,593.01 L821.50,593.08 L822.50,593.15 L823.50,593.23 L824.50,593.30 L825.50,593.37 L826.50,593.44 L827.50,593.51 L828.50,593.58 L829.50,593.64 L830.50,593.71 L831.50,593.78 L832.50,593.85 L833.50,593.92 L834.50,593.98 L835.50,594.05 L836.50,594.11 L837.50,594.18 L838.50,594.25 L839.50,594.31 L840.50,594.37 L841.50,594.44 L842.50,594.50 L843.50,594.57 L844.50,594.63 L845.50,594.69 L846.50,594.76 L847.50,594.82 L848.50,594.88 L849.50,594.94 L850.50,595.00 L851.50,595.06 L852.50,595.12 L853.50,595.19 L854.50,595.25 L855.50,595.31 L856.50,595.37 L857.50,595.43 L858.50,595.49 L859.50,595.54 L860.50,595.60 L861.50,595.66 L862.50,595.72 L863.50,595.78 L864.50,595.84 L865.50,595.90 L866.50,595.95 L867.50,596.01 L868.50,596.07 L869.50,596.13 L870.50,596.18 L871.50,596.24 L872.50,596.30 L873.50,596.35 L874.50,596.41 L875.50,596.47 L876.50,596.52 L877.50,596.58 L878.50,596.64 L879.50,596.69 L880.50,596.75 L881.50,596.81 L882.50,596.86 L883.50,596.92 L884.50,596.97 L885.50,597.03 L886.50,597.08 L887.50,597.14 L888.50,597.20 L889.50,597.25 L890.50,597.31 L891.50,597.36 L892.50,597.42 L893.50,597.47 L894.50,597.53 L895.50,597.58 L896.50,597.64 L897.50,597.70 L898.50,597.75 L899.50,597.81 L900.50,597.86 L901.50,597.92 L902.50,597.97 L903.50,598.03 L904.50,598.09 L905.50,598.14 L906.50,598.20 L907.50,598.25 L908.50,598.31 L909.50,598.37 L910.50,598.42 L911.50,598.48 L912.50,598.54 L913.50,598.59 L914.50,598.65 L915.50,598.71 L916.50,598.77 L917.50,598.82 L918.50,598.88 L919.50,598.94 L920.50,599.00 L921.50,599.05 L922.50,599.11 L923.50,599.17 L924.50,599.23 L925.50,599.29 L926.50,599.35 L927.50,599.41 L928.50,599.47 L929.50,599.53 L930.50,599.59 L931.50,599.65 L932.50,599.71 L933.50,599.77 L934.50,599.83 L935.50,599.89 L936.50,599.95 L937.50,600.01 L938.50,600.08 L939.50,600.14 L939.60,600.15" stroke="#000" stroke-width="3.9" fill="none" stroke-dasharray="17.47 17.19 4 17.19" stroke-dashoffset="-0.5" stroke-linejoin="round"/>
<path d="M139.5,13.00h11M939.6,13.00h-11M139.5,141.30h5.5M939.6,141.30h-5.5M139.5,108.97h5.5M939.6,108.97h-5.5M139.5,86.04h5.5M939.6,86.04h-5.5M139.5,68.25h5.5M939.6,68.25h-5.5M139.5,53.72h5.5M939.6,53.72h-5.5M139.5,41.43h5.5M939.6,41.43h-5.5M139.5,30.79h5.5M939.6,30.79h-5.5M139.5,21.40h5.5M939.6,21.40h-5.5M139.5,196.55h11M939.6,196.55h-11M139.5,324.84h5.5M939.6,324.84h-5.5M139.5,292.52h5.5M939.6,292.52h-5.5M139.5,269.59h5.5M939.6,269.59h-5.5M139.5,251.80h5.5M939.6,251.80h-5.5M139.5,237.27h5.5M939.6,237.27h-5.5M139.5,224.98h5.5M939.6,224.98h-5.5M139.5,214.34h5.5M939.6,214.34h-5.5M139.5,204.95h5.5M939.6,204.95h-5.5M139.5,380.10h11M939.6,380.10h-11M139.5,508.39h5.5M939.6,508.39h-5.5M139.5,476.07h5.5M939.6,476.07h-5.5M139.5,453.14h5.5M939.6,453.14h-5.5M139.5,435.35h5.5M939.6,435.35h-5.5M139.5,420.82h5.5M939.6,420.82h-5.5M139.5,408.53h5.5M939.6,408.53h-5.5M139.5,397.89h5.5M939.6,397.89h-5.5M139.5,388.50h5.5M939.6,388.50h-5.5M139.5,563.65h11M939.6,563.65h-11M139.5,604.37h5.5M939.6,604.37h-5.5M139.5,592.08h5.5M939.6,592.08h-5.5M139.5,581.43h5.5M939.6,581.43h-5.5M139.5,572.05h5.5M939.6,572.05h-5.5M272.85,618.9v-11M272.85,13.0v11M406.20,618.9v-11M406.20,13.0v11M539.55,618.9v-11M539.55,13.0v11M672.90,618.9v-11M672.90,13.0v11M806.25,618.9v-11M806.25,13.0v11" stroke="#000" stroke-width="3.5" fill="none"/>
<rect x="139.5" y="13.0" width="800.10" height="605.90" stroke="#000" stroke-width="3.5" fill="none"/>
<text x="72.2" y="31.10" font-family='"Liberation Serif", serif' font-size="43.5">10</text>
<text x="113.85" y="17.30" font-family='"Liberation Serif", serif' font-size="26">0</text>
<text x="64.1" y="214.95" font-family='"Liberation Serif", serif' font-size="43.5">10</text>
<text x="106.3" y="201.15" font-family='"Liberation Serif", serif' font-size="26">-1</text>
<text x="64.1" y="398.50" font-family='"Liberation Serif", serif' font-size="43.5">10</text>
<text x="106.3" y="384.00" font-family='"Liberation Serif", serif' font-size="26">-2</text>
<text x="64.1" y="582.25" font-family='"Liberation Serif", serif' font-size="43.5">10</text>
<text x="105.6" y="568.35" font-family='"Liberation Serif", serif' font-size="26">-3</text>
<text x="140.50" y="665.4" font-family='"Liberation Serif", serif' font-size="43.5" text-anchor="middle">0</text>
<text x="273.85" y="665.4" font-family='"Liberation Serif", serif' font-size="43.5" text-anchor="middle">10</text>
<text x="407.20" y="665.4" font-family='"Liberation Serif", serif' font-size="43.5" text-anchor="middle">20</text>
<text x="540.55" y="665.4" font-family='"Liberation Serif", serif' font-size="43.5" text-anchor="middle">30</text>
<text x="673.90" y="665.4" font-family='"Liberation Serif", serif' font-size="43.5" text-anchor="middle">40</text>
<text x="807.25" y="665.4" font-family='"Liberation Serif", serif' font-size="43.5" text-anchor="middle">50</text>
<text x="940.60" y="665.4" font-family='"Liberation Serif", serif' font-size="43.5" text-anchor="middle">60</text>
<text x="452" y="715.5" font-family='"Liberation Serif", serif' font-size="45">θ</text>
<text x="474" y="723.8" font-family='"Liberation Serif", serif' font-size="28.5">c.m.</text>
<text x="528.5" y="716.5" font-family='"Liberation Serif", serif' font-size="46.5">(deg)</text>
<text transform="translate(36.3,468.9) rotate(-90)" font-family='"Liberation Serif", serif' font-size="49.6">dσ/dΩ (mb/sr)</text>
<text x="772.2" y="78.4" font-family='"Liberation Serif", serif' font-size="39" text-anchor="end">Exp.</text>
<text x="772.2" y="132.5" font-family='"Liberation Serif", serif' font-size="39" text-anchor="end">DWBA + HF</text>
<text x="772.2" y="188" font-family='"Liberation Serif", serif' font-size="39" text-anchor="end">DWBA</text>
<text x="772.2" y="242" font-family='"Liberation Serif", serif' font-size="39" text-anchor="end">HF (CINDY)</text>
<path d="M808,66.9H903.5M808,61.300000000000004V72.5M903.5,61.300000000000004V72.5" stroke="#000" stroke-width="2.7" fill="none"/>
<circle cx="855.7" cy="66.9" r="6.4" fill="#000"/>
<path d="M808,121.7H903.5" stroke="#e31a0c" stroke-width="3.7"/>
<path d="M808,176.9H903.5" stroke="#0000ff" stroke-width="3.7" stroke-dasharray="35 17"/>
<path d="M808,232.0H903.5" stroke="#000" stroke-width="3.9" stroke-dasharray="18.5 17 4 17"/>
</svg></body></html>
